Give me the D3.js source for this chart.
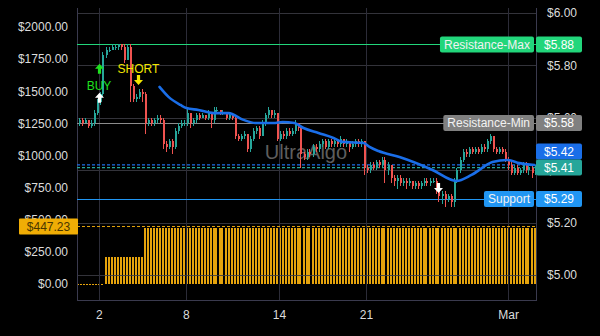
<!DOCTYPE html>
<html><head><meta charset="utf-8">
<script src="https://cdn.jsdelivr.net/npm/d3@7"></script>
<style>html,body{margin:0;background:#000;}svg{display:block;}</style>
</head><body>
<svg id="c" width="600" height="336"></svg>
<script>
// ---------- data ----------
const firstOpen = 5.58;
const closes = [
5.59,5.58,5.59,5.57,5.58,5.62,5.66,5.69,5.84,5.86,
5.86,5.87,5.87,5.88,5.87,5.82,5.87,5.72,5.67,5.68,
5.70,5.69,5.58,5.59,5.58,5.59,5.60,5.59,5.50,5.49,
5.51,5.49,5.55,5.57,5.58,5.58,5.62,5.58,5.59,5.61,
5.60,5.61,5.60,5.62,5.59,5.63,5.63,5.62,5.62,5.60,
5.61,5.60,5.53,5.52,5.53,5.54,5.48,5.52,5.55,5.56,
5.53,5.58,5.61,5.63,5.61,5.62,5.52,5.54,5.53,5.55,
5.54,5.55,5.58,5.56,5.46,5.45,5.47,5.46,5.49,5.48,
5.50,5.51,5.49,5.51,5.50,5.51,5.50,5.52,5.50,5.51,
5.49,5.50,5.51,5.50,5.51,5.41,5.40,5.42,5.41,5.43,
5.42,5.44,5.40,5.42,5.37,5.36,5.37,5.35,5.36,5.35,
5.36,5.34,5.35,5.34,5.35,5.36,5.35,5.36,5.36,5.33,
5.30,5.31,5.29,5.30,5.28,5.36,5.40,5.44,5.47,5.46,
5.48,5.47,5.48,5.47,5.49,5.48,5.51,5.53,5.48,5.47,
5.48,5.47,5.44,5.42,5.39,5.41,5.39,5.40,5.42,5.40,
5.41,5.39,5.41];
const highs = [
5.60,5.60,5.60,5.59,5.59,5.63,5.67,5.70,5.85,5.87,
5.87,5.88,5.88,5.88,5.88,5.88,5.88,5.88,5.73,5.69,
5.71,5.71,5.70,5.60,5.60,5.60,5.61,5.61,5.60,5.51,
5.52,5.52,5.56,5.58,5.59,5.59,5.64,5.62,5.60,5.62,
5.62,5.62,5.61,5.63,5.62,5.64,5.64,5.63,5.63,5.62,
5.62,5.62,5.61,5.54,5.54,5.55,5.54,5.53,5.56,5.57,
5.57,5.59,5.62,5.64,5.63,5.63,5.62,5.55,5.55,5.56,
5.56,5.56,5.59,5.58,5.57,5.47,5.48,5.48,5.50,5.50,
5.51,5.52,5.52,5.52,5.52,5.52,5.52,5.53,5.52,5.52,
5.51,5.51,5.52,5.52,5.52,5.51,5.42,5.43,5.43,5.44,
5.44,5.45,5.45,5.43,5.42,5.38,5.38,5.38,5.37,5.37,
5.37,5.36,5.36,5.36,5.36,5.37,5.37,5.37,5.37,5.37,
5.33,5.32,5.32,5.31,5.31,5.37,5.41,5.45,5.48,5.48,
5.49,5.49,5.49,5.49,5.50,5.50,5.52,5.54,5.53,5.49,
5.49,5.49,5.48,5.45,5.43,5.42,5.42,5.41,5.43,5.43,
5.42,5.42,5.42];
const lows = [
5.57,5.57,5.58,5.56,5.56,5.57,5.61,5.65,5.68,5.83,
5.85,5.86,5.86,5.86,5.86,5.81,5.82,5.66,5.66,5.66,
5.67,5.66,5.54,5.57,5.57,5.57,5.58,5.58,5.48,5.47,
5.48,5.46,5.48,5.54,5.56,5.57,5.57,5.56,5.57,5.58,
5.59,5.60,5.59,5.59,5.56,5.58,5.62,5.61,5.61,5.59,
5.59,5.59,5.52,5.51,5.51,5.52,5.47,5.47,5.51,5.54,
5.52,5.53,5.57,5.60,5.60,5.60,5.51,5.51,5.52,5.52,
5.53,5.53,5.54,5.55,5.41,5.44,5.44,5.45,5.45,5.47,
5.47,5.49,5.48,5.48,5.49,5.49,5.49,5.49,5.49,5.49,
5.47,5.48,5.49,5.49,5.49,5.38,5.39,5.39,5.40,5.40,
5.41,5.41,5.35,5.38,5.35,5.34,5.33,5.34,5.34,5.33,
5.34,5.33,5.33,5.33,5.33,5.34,5.34,5.34,5.35,5.31,
5.28,5.27,5.26,5.28,5.26,5.26,5.35,5.39,5.43,5.45,
5.45,5.46,5.46,5.46,5.46,5.47,5.47,5.50,5.47,5.46,
5.46,5.46,5.43,5.40,5.38,5.38,5.38,5.38,5.39,5.39,
5.38,5.37,5.38];
const volumes = [
0,0,0,0,0,0,0,0,0,
210,210,210,210,210,210,210,210,210,210,210,210,210,
432,432,432,432,432,432,432,432,432,432,
432,432,432,432,432,432,432,432,432,432,
432,432,432,432,432,432,432,432,432,432,
432,432,432,432,432,432,432,432,432,432,
432,432,432,432,432,432,432,432,432,432,
432,432,432,432,432,432,432,432,432,432,
432,432,432,432,432,432,432,432,432,432,
432,432,432,432,432,432,432,432,432,432,
432,432,432,432,432,432,432,432,432,432,
432,432,432,432,432,432,432,432,432,432,
432,432,432,432,432,432,432,432,432,432,
432,432,432,432,432,432,432,432,432,432,
432,432,432,432,432,432,432,432,432,432,
432];
const volumeLast = 447.23;
const maIdx = [27,30,34,36,40,45,50,55,59,65,68,72,75,80,85,88,95,97,100,107,118,126,131,138,143,147,152];
const maVal = [5.718,5.68,5.649,5.637,5.63,5.618,5.618,5.592,5.58,5.58,5.584,5.58,5.561,5.542,5.523,5.508,5.504,5.489,5.473,5.45,5.401,5.359,5.382,5.431,5.439,5.427,5.42];
const maLast = 5.42;
const levelNames = ["Resistance-Max","Resistance-Min","Support"];
const levelValues = [5.88,5.58,5.29];
const signalIdx = [7,20,120];
const signalKind = ["buy","short","exit"];
const xTickIdx = [6.8,35.8,66.8,95.8,143.2];
const xTickLabels = ["2","8","14","21","Mar"];
const leftTicks = [0,250,500,750,1000,1250,1500,1750,2000];
const rightTicks = [5.0,5.2,5.4,5.6,5.8,6.0];

// ---------- layout ----------
const L = 77, R = 536, T = 8, B = 300;
const FONT = "'Liberation Sans', Arial, sans-serif";
const UP = "#26a69a", DOWN = "#ef5350";
const n = closes.length;
const candles = closes.map((c,i)=>({i, o: i===0?firstOpen:closes[i-1], h: highs[i], l: lows[i], c}));

const x = d3.scaleLinear().domain([-0.5, n-0.5]).range([L, R]);
const yR = d3.scaleLinear().domain([5, 6]).range([275, 13]);
const yL = d3.scaleLinear().domain([0, 2000]).range([284, 27]);

const svg = d3.select("#c").style("font-family", FONT);
svg.append("rect").attr("width",600).attr("height",336).attr("fill","#000");

// watermark
svg.append("text").attr("x", (L+R)/2 - 0.5).attr("y", 159).attr("text-anchor","middle")
  .attr("font-size", 20).attr("fill", "#5e5e5e").text("UltraAlgo");

// volume bars
const vg = svg.append("g").attr("shape-rendering","crispEdges");
vg.selectAll("rect").data(volumes.map((v,i)=>({v,i})).filter(d=>d.v>0)).join("rect")
  .attr("x", d=>Math.round(x(d.i))-1).attr("width", 2)
  .attr("y", d=>yL(d.v)).attr("height", d=>yL(0)-yL(d.v))
  .attr("fill", "#e5a30c");
const zeroIdx = volumes.map((v,i)=>v===0?i:-1).filter(i=>i>=0);
svg.append("line").attr("x1", x(d3.min(zeroIdx)-0.5)).attr("x2", x(d3.max(zeroIdx)+0.5))
  .attr("y1", yL(0)+0.5).attr("y2", yL(0)+0.5)
  .attr("stroke","#e5a30c").attr("stroke-dasharray","2,1");

// grid
const grid = svg.append("g").attr("shape-rendering","crispEdges");
grid.selectAll(".h").data(rightTicks).join("line")
  .attr("x1",L).attr("x2",R).attr("y1",d=>Math.round(yR(d))+0.5).attr("y2",d=>Math.round(yR(d))+0.5)
  .attr("stroke","#3c3c44").attr("stroke-opacity",0.85);
grid.selectAll(".v").data(xTickIdx).join("line")
  .attr("x1",d=>Math.round(x(d))+0.5).attr("x2",d=>Math.round(x(d))+0.5).attr("y1",T).attr("y2",B)
  .attr("stroke","#2c2c38");
// frame
grid.append("path").attr("d", `M${L+0.5},${T}V${B+0.5}H${R+0.5}V${T}`)
  .attr("fill","none").attr("stroke","#3a3a4e");

// level lines
const levelColors = ["#22d67b","#8c8c8c","#2196f3"];
svg.append("g").selectAll("line").data(levelValues).join("line")
  .attr("x1",L).attr("x2",R).attr("y1",d=>Math.round(yR(d))+0.5).attr("y2",d=>Math.round(yR(d))+0.5)
  .attr("stroke",(d,i)=>levelColors[i]).attr("stroke-width",1.2);
svg.append("line").attr("x1",L).attr("x2",R).attr("y1",yR(maLast)).attr("y2",yR(maLast))
  .attr("stroke","#1f6fe8").attr("stroke-dasharray","3,2").attr("stroke-width",1.2);
svg.append("line").attr("x1",L).attr("x2",R).attr("y1",yR(closes[n-1])).attr("y2",yR(closes[n-1]))
  .attr("stroke",UP).attr("stroke-dasharray","3,2").attr("stroke-width",1.2);
svg.append("line").attr("x1",L).attr("x2",R).attr("y1",yL(volumeLast)).attr("y2",yL(volumeLast))
  .attr("stroke","#e5a30c").attr("stroke-dasharray","3,2");

// candles
const cg = svg.append("g").attr("shape-rendering","crispEdges");
const cs = cg.selectAll("g").data(candles).join("g");
cs.append("rect").attr("x",d=>Math.round(x(d.i))).attr("width",1)
  .attr("y",d=>yR(d.h)).attr("height",d=>Math.max(1,yR(d.l)-yR(d.h)))
  .attr("fill",d=>d.c>=d.o?UP:DOWN);
cs.append("rect").attr("x",d=>Math.round(x(d.i))-0.5).attr("width",2)
  .attr("y",d=>yR(Math.max(d.o,d.c))).attr("height",d=>Math.max(1,Math.abs(yR(d.o)-yR(d.c))))
  .attr("fill",d=>d.c>=d.o?UP:DOWN);

// moving average
svg.append("path").datum(maIdx.map((k,j)=>[k,maVal[j]]))
  .attr("d", d3.line().x(d=>x(d[0])).y(d=>yR(d[1])).curve(d3.curveMonotoneX))
  .attr("fill","none").attr("stroke","#1a6ee8").attr("stroke-width",2.6).attr("stroke-linecap","round");

// signals
function arrow(cx, tip, up, color){
  const s = up?1:-1;
  const p = `M${cx},${tip} L${cx+4.5},${tip+5*s} L${cx+1.6},${tip+5*s} L${cx+1.6},${tip+10*s} L${cx-1.6},${tip+10*s} L${cx-1.6},${tip+5*s} L${cx-4.5},${tip+5*s} Z`;
  svg.append("path").attr("d",p).attr("fill",color);
}
signalIdx.forEach((k,j)=>{
  const cx = x(k);
  if (signalKind[j]==="buy"){
    const yl = yR(lows[k]);
    arrow(cx, yl-12, true, "#ffffff");
    svg.append("text").attr("x",cx-0.5).attr("y",yl-15).attr("text-anchor","middle")
      .attr("font-size",12).attr("fill","#1fe01f").text("BUY");
    arrow(cx, yl-41, true, "#1fe01f");
  } else if (signalKind[j]==="short"){
    const yh = yR(highs[k]);
    arrow(cx, yh-4, false, "#f2e600");
    svg.append("text").attr("x",cx).attr("y",yh-16).attr("text-anchor","middle")
      .attr("font-size",12).attr("fill","#f2e600").text("SHORT");
  } else {
    const yh = yR(highs[k]);
    arrow(cx, yh+4.5, false, "#ffffff");
  }
});

// axes
const axR = svg.append("g").attr("transform",`translate(${R},0)`)
  .call(d3.axisRight(yR).tickValues(rightTicks).tickSize(0).tickPadding(11).tickFormat(d=>"$"+d.toFixed(2)));
const axL = svg.append("g").attr("transform",`translate(${L},0)`)
  .call(d3.axisLeft(yL).tickValues(leftTicks).tickSize(0).tickPadding(9).tickFormat(d=>"$"+d.toFixed(2)));
const axB = svg.append("g").attr("transform",`translate(0,${B})`)
  .call(d3.axisBottom(x).tickValues(xTickIdx).tickSize(0).tickPadding(10).tickFormat((d,i)=>xTickLabels[i]));
[axR,axL,axB].forEach(a=>{
  a.select(".domain").remove();
  a.selectAll("text").attr("fill","#dcdcdc").attr("font-size",12).attr("font-family",FONT);
});

// right-side tags
const tags = [
  {v: levelValues[0], bg: levelColors[0], label: levelNames[0]},
  {v: levelValues[1], bg: "#808080", label: levelNames[1]},
  {v: maLast, bg: "#1a6ee8"},
  {v: closes[n-1], bg: UP},
  {v: levelValues[2], bg: levelColors[2], label: levelNames[2]}
];
tags.forEach(t=>t.cy = yR(t.v));
const H = 16;
const sorted = tags.slice().sort((a,b)=>b.cy-a.cy);
for (let k=1;k<sorted.length;k++){
  if (sorted[k].cy > sorted[k-1].cy - H) sorted[k].cy = sorted[k-1].cy - H;
}
tags.forEach(t=>{
  const g = svg.append("g");
  g.append("rect").attr("x",R).attr("y",t.cy-H/2).attr("width",46).attr("height",H).attr("rx",2).attr("fill",t.bg);
  g.append("text").attr("x",R+23).attr("y",t.cy).attr("dy","0.35em").attr("text-anchor","middle")
    .attr("font-size",12).attr("fill","#ffffff").text("$"+t.v.toFixed(2));
  if (t.label){
    const tx = g.append("text").attr("y",t.cy).attr("dy","0.35em").attr("text-anchor","end")
      .attr("x",R-6).attr("font-size",12).attr("fill","#f2f2f2").text(t.label);
    const w = tx.node().getComputedTextLength()+8;
    g.insert("rect","text:last-of-type").attr("x",R-2-w).attr("y",t.cy-H/2).attr("width",w).attr("height",H).attr("rx",2).attr("fill",t.bg);
  }
});

// left tag
const ly = yL(volumeLast);
svg.append("rect").attr("x",19).attr("y",ly-8).attr("width",59).attr("height",16).attr("rx",1).attr("fill","#f0ad05");
svg.append("text").attr("x",48.5).attr("y",ly).attr("dy","0.35em").attr("text-anchor","middle")
  .attr("font-size",12).attr("fill","#4a3600").text("$"+volumeLast.toFixed(2));
</script>
</body></html>
